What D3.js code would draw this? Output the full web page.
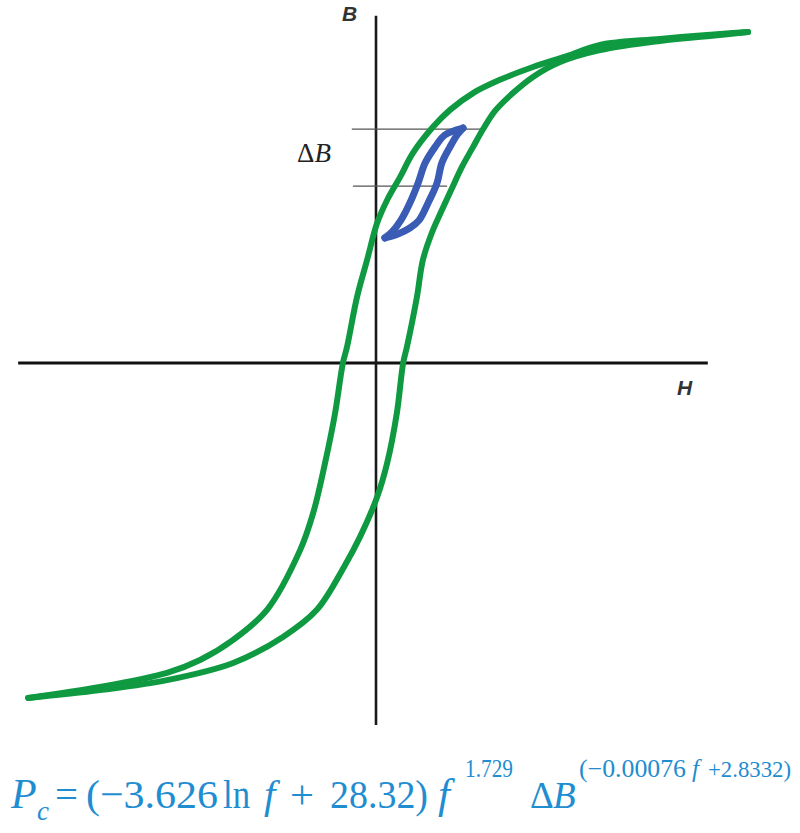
<!DOCTYPE html>
<html>
<head>
<meta charset="utf-8">
<script src="https://cdn.jsdelivr.net/npm/d3@7"></script>
<style>
  body { margin: 0; background: #fff; }
  svg { display: block; }
</style>
</head>
<body>
<div></div>
<script>
const width = 800;
const height = 833;

// major loop, descending branch (from +saturation down to -saturation)
const upperH = [1.000, 0.925, 0.763, 0.602, 0.513, 0.422, 0.333, 0.261, 0.199, 0.153, 0.099, 0.065, 0.030, 0.003, -0.024, -0.051, -0.078, -0.089, -0.110, -0.137, -0.169, -0.204, -0.293, -0.384, -0.473, -0.562, -0.742, -0.935];
const upperB = [1.003, 0.997, 0.982, 0.964, 0.930, 0.897, 0.858, 0.818, 0.767, 0.715, 0.636, 0.564, 0.494, 0.424, 0.312, 0.200, 0.048, 0.000, -0.152, -0.303, -0.455, -0.567, -0.748, -0.839, -0.900, -0.939, -0.982, -1.015];

// major loop, ascending branch
const lowerH = [-0.935, -0.742, -0.562, -0.384, -0.250, -0.159, -0.083, -0.043, 0.003, 0.030, 0.056, 0.073, 0.083, 0.110, 0.126, 0.151, 0.175, 0.202, 0.231, 0.261, 0.288, 0.320, 0.368, 0.422, 0.495, 0.602, 0.763, 0.925, 1.000];
const lowerB = [-1.015, -0.991, -0.961, -0.909, -0.830, -0.748, -0.612, -0.527, -0.406, -0.303, -0.152, 0.000, 0.048, 0.200, 0.312, 0.397, 0.458, 0.524, 0.594, 0.655, 0.709, 0.764, 0.818, 0.867, 0.912, 0.948, 0.976, 0.994, 1.003];

// minor loop (ΔB excursion)
const minorDownH = [0.234, 0.185, 0.159, 0.132, 0.113, 0.091, 0.067, 0.043, 0.024];
const minorDownB = [0.712, 0.691, 0.655, 0.606, 0.545, 0.485, 0.433, 0.397, 0.379];
const minorUpH = [0.024, 0.059, 0.091, 0.116, 0.140, 0.164, 0.177, 0.199, 0.218, 0.234];
const minorUpB = [0.379, 0.391, 0.409, 0.433, 0.485, 0.545, 0.606, 0.655, 0.691, 0.712];

// ΔB marker levels and their extents in H
const deltaLevels = [0.709, 0.536];
const deltaStart = [-0.065, -0.062];
const deltaEnd = [0.288, 0.191];

// axis extents
const axisH = [-0.962, 0.892];
const axisB = [-1.097, 1.052];

const svg = d3
  .select("div")
  .append("svg")
  .attr("width", width)
  .attr("height", height);

const x = d3.scaleLinear().domain([-1, 1]).range([4, 748]);
const y = d3.scaleLinear().domain([-1, 1]).range([693, 33]);

const line = d3
  .line()
  .x((d) => x(d[0]))
  .y((d) => y(d[1]))
  .curve(d3.curveCatmullRom.alpha(0.5));

const zip = (a, b) => a.map((v, i) => [v, b[i]]);

// axes
svg
  .append("line")
  .attr("x1", x(axisH[0]))
  .attr("x2", x(axisH[1]))
  .attr("y1", y(0))
  .attr("y2", y(0))
  .attr("stroke", "#111")
  .attr("stroke-width", 3.2);

svg
  .append("line")
  .attr("x1", x(0))
  .attr("x2", x(0))
  .attr("y1", y(axisB[0]))
  .attr("y2", y(axisB[1]))
  .attr("stroke", "#1a1a1a")
  .attr("stroke-width", 2.6);

// ΔB guide lines
svg
  .selectAll(".delta")
  .data(deltaLevels)
  .enter()
  .append("line")
  .attr("class", "delta")
  .attr("x1", (d, i) => x(deltaStart[i]))
  .attr("x2", (d, i) => x(deltaEnd[i]))
  .attr("y1", (d) => y(d))
  .attr("y2", (d) => y(d))
  .attr("stroke", "#555")
  .attr("stroke-width", 1.2);

// major hysteresis loop
svg
  .selectAll(".major")
  .data([zip(upperH, upperB), zip(lowerH, lowerB)])
  .enter()
  .append("path")
  .attr("class", "major")
  .attr("d", line)
  .attr("fill", "none")
  .attr("stroke", "#0f9a42")
  .attr("stroke-width", 6)
  .attr("stroke-linecap", "round");

// minor loop
svg
  .selectAll(".minor")
  .data([zip(minorDownH, minorDownB), zip(minorUpH, minorUpB)])
  .enter()
  .append("path")
  .attr("class", "minor")
  .attr("d", line)
  .attr("fill", "none")
  .attr("stroke", "#3a5cb5")
  .attr("stroke-width", 7)
  .attr("stroke-linecap", "round")
  .attr("stroke-linejoin", "round");

// axis labels
const sans = "Liberation Sans, Arial, sans-serif";
svg
  .append("text")
  .attr("x", 342)
  .attr("y", 21)
  .attr("font-family", sans)
  .attr("font-weight", "bold")
  .attr("font-style", "italic")
  .attr("font-size", 21)
  .attr("fill", "#333")
  .text("B");

svg
  .append("text")
  .attr("x", 677)
  .attr("y", 395)
  .attr("font-family", sans)
  .attr("font-weight", "bold")
  .attr("font-style", "italic")
  .attr("font-size", 21)
  .attr("fill", "#333")
  .text("H");

const serif = "Liberation Serif, Times New Roman, serif";
const dB = svg
  .append("text")
  .attr("x", 297)
  .attr("y", 162)
  .attr("font-family", serif)
  .attr("font-size", 27)
  .attr("fill", "#222");
dB.append("tspan").text("Δ");
dB.append("tspan").attr("font-style", "italic").text("B");

// formula, each piece stretched to the width it has in the reference
const blue = "#1f8dd0";
const parts = [
  { t: "P", x: 11, y: 808, it: true, s: 42 },
  { t: "c", x: 37, y: 820, it: true, s: 27 },
  { t: "=", x: 55, y: 808, w: 23 },
  { t: "(−3.626", x: 86, y: 808, w: 132 },
  { t: "ln", x: 223, y: 808, w: 27 },
  { t: "f", x: 264, y: 808, it: true },
  { t: "+", x: 290, y: 808, w: 24 },
  { t: "28.32)", x: 330, y: 808, s: 40, w: 98 },
  { t: "f", x: 438, y: 808, it: true, s: 43 },
  { t: "1.729", x: 465, y: 777, s: 25, w: 48 },
  { t: "Δ", x: 530, y: 808, s: 37 },
  { t: "B", x: 553, y: 808, it: true, s: 37 },
  { t: "(−0.00076", x: 579, y: 777, s: 25, w: 107 },
  { t: "f", x: 692, y: 777, it: true, s: 25 },
  { t: "+2.8332)", x: 708, y: 777, s: 24, w: 83 },
];

parts.forEach((p) => {
  const t = svg
    .append("text")
    .attr("x", p.x)
    .attr("y", p.y)
    .attr("font-family", serif)
    .attr("font-style", p.it ? "italic" : "normal")
    .attr("font-size", p.s || 41)
    .attr("fill", blue)
    .text(p.t);
  if (p.w) t.attr("textLength", p.w).attr("lengthAdjust", "spacingAndGlyphs");
});
</script>
</body>
</html>
